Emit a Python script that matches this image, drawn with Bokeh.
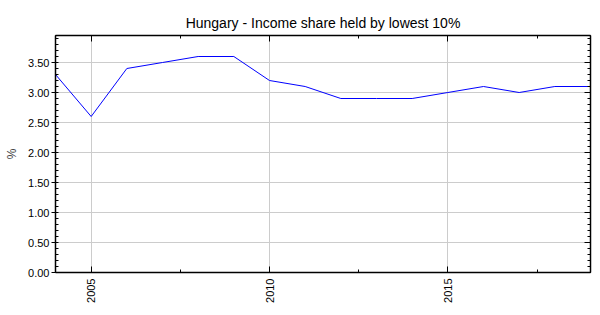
import math
from bokeh.plotting import figure
from bokeh.models import (LinearAxis, SingleIntervalTicker, NumeralTickFormatter, Range1d,
                          FixedTicker, CustomJSTickFormatter)
from bokeh.embed import file_html
from bokeh.resources import INLINE

years = [2004, 2005, 2006, 2007, 2008, 2009, 2010, 2011, 2012, 2013, 2014, 2015, 2016, 2017, 2018, 2019]
values = [3.3, 2.6, 3.4, 3.5, 3.6, 3.6, 3.2, 3.1, 2.9, 2.9, 2.9, 3.0, 3.1, 3.0, 3.1, 3.1]
x_ticks = [2005, 2010, 2015]
y_ticks = [0.0, 0.5, 1.0, 1.5, 2.0, 2.5, 3.0, 3.5]

FONT = "Liberation Sans"

p = figure(width=600, height=315, output_backend="svg", toolbar_location=None,
           x_range=Range1d(2004, 2019), y_range=Range1d(0, 3.95),
           x_axis_location=None, y_axis_location=None,
           min_border_left=55, min_border_right=10, min_border_top=35, min_border_bottom=43)

p.title.text = "Hungary - Income share held by lowest 10%"
p.title.align = "center"
p.title.text_font = FONT
p.title.text_font_size = "14px"
p.title.text_font_style = "normal"
p.title.text_color = "#000000"

xt = SingleIntervalTicker(interval=5, num_minor_ticks=2)
yt = SingleIntervalTicker(interval=0.5, num_minor_ticks=5)

bottom = LinearAxis(ticker=xt)
bottom.major_label_orientation = math.pi / 2
bottom.major_tick_in = 6
bottom.major_tick_out = 0
bottom.minor_tick_in = 3
bottom.minor_tick_out = 0
bottom.major_label_standoff = 6
p.add_layout(bottom, "below")

left = LinearAxis(ticker=yt, formatter=NumeralTickFormatter(format="0.00"))
left.axis_label = "%"
left.major_tick_in = 0
left.major_tick_out = 4
left.minor_tick_in = 3
left.minor_tick_out = 0
left.major_label_standoff = 2
left.axis_label_standoff = 6
p.add_layout(left, "left")

blank = CustomJSTickFormatter(code="return ''")

top = LinearAxis(ticker=SingleIntervalTicker(interval=5, num_minor_ticks=2), formatter=blank)
top.major_tick_in = 6
top.major_tick_out = 0
top.minor_tick_in = 3
top.minor_tick_out = 0
top.major_label_standoff = 0
p.add_layout(top, "above")

right = LinearAxis(ticker=SingleIntervalTicker(interval=0.5, num_minor_ticks=5), formatter=blank)
right.major_tick_in = 6
right.major_tick_out = 0
right.minor_tick_in = 3
right.minor_tick_out = 0
right.major_label_standoff = 0
p.add_layout(right, "right")

for ax in (bottom, left, top, right):
    ax.axis_line_color = "#000000"
    ax.axis_line_width = 1.5
    ax.major_tick_line_color = "#000000"
    ax.minor_tick_line_color = "#000000"
    ax.major_label_text_font = FONT
    ax.axis_label_text_font = FONT
    ax.axis_label_text_font_style = "normal"
    ax.axis_label_text_font_size = "12px"
    ax.major_label_text_color = "#000000"
    ax.major_label_text_font_size = "11px"

p.xgrid.ticker = FixedTicker(ticks=x_ticks)
p.ygrid.ticker = FixedTicker(ticks=y_ticks)
p.grid.grid_line_color = "#cccccc"
p.grid.grid_line_width = 1
p.outline_line_color = "#000000"
p.background_fill_color = "#ffffff"
p.border_fill_color = "#ffffff"

p.line(years, values, line_color="#0000ff", line_width=1)

open("out.html", "w").write(file_html(p, INLINE))
